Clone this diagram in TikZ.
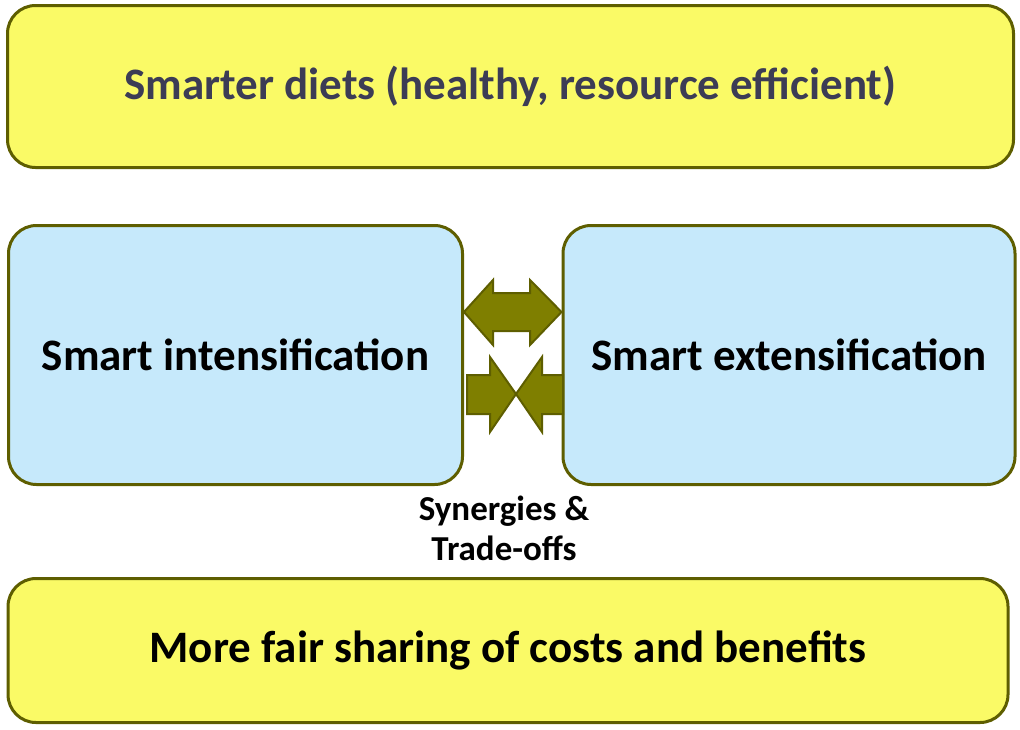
\documentclass[tikz,border=0pt]{standalone}
\usepackage{fontspec}
\setmainfont{Carlito}
\usepackage{tikz}
\definecolor{boxline}{HTML}{5E5E00}
\definecolor{arrowfill}{HTML}{7F7F00}
\definecolor{yellowbox}{HTML}{FAFA66}
\definecolor{bluebox}{HTML}{C6E9FB}
\definecolor{toptext}{HTML}{3C3C55}

\begin{document}
\begin{tikzpicture}[x=1pt,y=-1pt,
  box/.style={draw=boxline, line width=3pt, rounded corners=28pt, inner sep=0pt, font=\fontsize{45}{50}\selectfont\bfseries},
  yellow/.style={box, fill=yellowbox},
  blue/.style={box, fill=bluebox},
  arrowpart/.style={fill=arrowfill, draw=boxline, line width=2pt, line join=miter}]
  \useasboundingbox (0,0) rectangle (1020,729);
  \node[yellow, minimum width=1006pt, minimum height=162pt, text=toptext] (diets) at (510.5,86.5) {Smarter diets (healthy, resource efficient)};
  \node[blue, minimum width=454pt, minimum height=259pt] (intens) at (235.5,355) {Smart intensification};
  \node[blue, minimum width=452pt, minimum height=259pt] (extens) at (789,355) {Smart extensification};
  \node[yellow, minimum width=1000pt, minimum height=144pt] (sharing) at (508,650.5) {More fair sharing of costs and benefits};
  \node[font=\fontsize{35}{40}\selectfont\bfseries, align=center] (syn) at (504,528) {Synergies \&\\Trade-offs};
  % double arrow between the boxes
  \draw[arrowpart] (intens.east |- 0,312) -- (493,280) -- (493,293) -- (530,293) -- (530,280)
    -- (extens.west |- 0,312) -- (530,345) -- (530,331) -- (493,331) -- (493,345) -- cycle;
  % arrows meeting in the middle
  \coordinate (meet) at (516,394);
  \draw[arrowpart] (meet) -- (490,357) -- (490,375) -- (467,375) -- (467,414) -- (490,414) -- (490,432) -- cycle;
  \draw[arrowpart] (meet) -- (542,357) -- (542,375) -- (563,375) -- (563,414) -- (542,414) -- (542,432) -- cycle;
\end{tikzpicture}
\end{document}
